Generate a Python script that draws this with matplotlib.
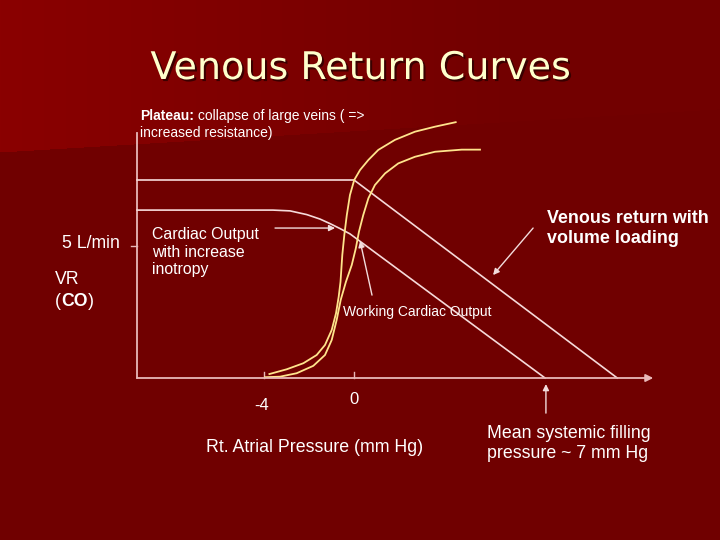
import numpy as np
import matplotlib
matplotlib.use("Agg")
import matplotlib.pyplot as plt
import matplotlib.patheffects as pe

# ---- data (x: right atrial pressure, mm Hg; y: flow, L/min) ----
vr_normal_x = [-9.64, -3.6, -2.84, -2.10, -1.51, -1.07, -0.62, -0.18, 8.49]
vr_normal_y = [6.36, 6.36, 6.33, 6.19, 6.02, 5.85, 5.66, 5.46, 0.0]

vr_loaded_x = [-9.64, 0.0, 11.7]
vr_loaded_y = [7.5, 7.5, 0.0]

co_ino_x = [-3.76, -2.99, -2.25, -1.66, -1.29, -0.99, -0.80, -0.68, -0.60,
            -0.52, -0.43, -0.32, -0.18, 0.01, 0.27, 0.64, 1.08, 1.82, 2.71,
            3.60, 4.52]
co_ino_y = [0.15, 0.33, 0.56, 0.87, 1.25, 1.82, 2.45, 3.08, 3.64,
            4.66, 5.42, 6.17, 6.93, 7.50, 7.88, 8.26, 8.64, 9.02, 9.33,
            9.52, 9.69]

co_norm_x = [-3.96, -3.29, -2.55, -1.81, -1.29, -0.99, -0.77, -0.59, -0.36,
             -0.10, 0.08, 0.22, 0.41, 0.64, 0.93, 1.38, 1.97, 2.71, 3.60,
             4.79, 5.60]
co_norm_y = [0.03, 0.05, 0.18, 0.46, 0.87, 1.44, 2.20, 2.96, 3.64,
             4.28, 4.91, 5.54, 6.17, 6.81, 7.31, 7.75, 8.13, 8.38, 8.57,
             8.65, 8.65]

x_ticks = [-4, 0]
x_tick_labels = ["-4", "0"]
y_tick = 5.0

W, H = 720, 540
AXIS = "#E8B8B8"
LINE = "#F6DADA"
CO = "#FFE48C"
TXT = "white"
TITLE = "#FFFFCC"

fig = plt.figure(figsize=(7.2, 5.4), dpi=100)

# background: dark red slide with a lighter band in the upper left
bg = fig.add_axes([0, 0, 1, 1])
yy, xx = np.mgrid[0:H, 0:W]
red = np.full((H, W), 112.0)
upper = yy < (152 - 0.06 * xx)
band = 138 - 24 * np.clip(xx / 520, 0, 1)
red[upper] = band[upper]
img = np.stack([red / 255, np.zeros_like(red), np.zeros_like(red)], axis=-1)
bg.imshow(img, extent=[0, W, H, 0], aspect="auto")
bg.set_axis_off()


def px(x, y):
    return x / W, 1 - y / H


ax = fig.add_axes([0, 0, 1, 1])
ax.patch.set_visible(False)
ax.set_xlim(-354 / 22.5, (W - 354) / 22.5)
ax.set_ylim((378 - H) / 26.4, 378 / 26.4)
ax.set_axis_off()

x0 = -9.64
ax.plot([x0, x0], [0, 9.28], color=AXIS, lw=1.3)
ax.annotate("", xy=(13.3, 0), xytext=(x0, 0),
            arrowprops=dict(arrowstyle="-|>", color=AXIS, lw=1.3,
                            mutation_scale=11, shrinkA=0, shrinkB=0))
for t in x_ticks:
    ax.plot([t, t], [0, 0.22], color=AXIS, lw=1)
ax.plot([x0 - 0.25, x0], [y_tick, y_tick], color=AXIS, lw=1)

ax.plot(vr_normal_x, vr_normal_y, color=LINE, lw=1.2)
ax.plot(vr_loaded_x, vr_loaded_y, color=LINE, lw=1.2)
ax.plot(co_ino_x, co_ino_y, color=CO, lw=1.3)
ax.plot(co_norm_x, co_norm_y, color=CO, lw=1.3)

arrow = dict(arrowstyle="-|>", color="#F2DCDC", lw=1, mutation_scale=9,
             shrinkA=0, shrinkB=0)
ax.annotate("", xy=(-0.84, 5.68), xytext=(-3.51, 5.68), arrowprops=arrow)
ax.annotate("", xy=(0.27, 5.19), xytext=(0.8, 3.14), arrowprops=arrow)
ax.annotate("", xy=(6.18, 3.90), xytext=(7.96, 5.68), arrowprops=arrow)
ax.annotate("", xy=(8.53, -0.23), xytext=(8.53, -1.33), arrowprops=arrow)

# ---- text ----
FONT = "Liberation Sans"
fig.text(*px(360.5, 79), "Venous Return Curves", color=TITLE, fontsize=27.4,
         family="DejaVu Sans", ha="center", va="baseline",
         path_effects=[pe.withSimplePatchShadow(offset=(1.5, -1.5),
                                                shadow_rgbFace="#2a0000",
                                                alpha=0.8)])

t1 = fig.text(*px(140, 116), "Plateau:", color=TXT, fontsize=10,
              family=FONT, weight="bold", va="center")
ax.annotate(" collapse of large veins ( =>", xy=(1, 0.5), xycoords=t1,
            va="center", color=TXT, fontsize=10, family=FONT)
fig.text(*px(140, 133), "increased resistance)", color=TXT, fontsize=10,
         family=FONT, va="center")

fig.text(*px(62, 243), "5 L/min", color=TXT, fontsize=12.7, family=FONT,
         va="center")
fig.text(*px(55, 279), "VR", color=TXT, fontsize=12.7, family=FONT,
         va="center")
p1 = fig.text(*px(55, 301), "(", color=TXT, fontsize=12.7, family=FONT,
              va="center")
p2 = ax.annotate("CO", xy=(1, 0.5), xycoords=p1, va="center", color=TXT,
                 fontsize=12.7, family=FONT, weight="bold")
ax.annotate(")", xy=(1, 0.5), xycoords=p2, va="center", color=TXT,
            fontsize=12.7, family=FONT)

fig.text(*px(152, 227), "Cardiac Output\nwith increase\ninotropy", color=TXT,
         fontsize=11.4, family=FONT, va="top", linespacing=1.22)
fig.text(*px(343, 312), "Working Cardiac Output", color=TXT, fontsize=10,
         family=FONT, va="center")
fig.text(*px(547, 210), "Venous return with\nvolume loading", color=TXT,
         fontsize=12.9, family=FONT, weight="bold", va="top",
         linespacing=1.2)

for t, lab, yoff in zip(x_ticks, x_tick_labels, [405, 399]):
    fig.text(*px(354 + t * 22.5 - 2 * (t < 0), yoff), lab, color=TXT,
             fontsize=12, family=FONT, ha="center", va="center")

fig.text(*px(206, 447), "Rt. Atrial Pressure (mm Hg)", color=TXT,
         fontsize=12.8, family=FONT, va="center")
fig.text(*px(487, 425), "Mean systemic filling\npressure ~ 7 mm Hg", color=TXT,
         fontsize=12.8, family=FONT, va="top", linespacing=1.2)

fig.savefig("out.png", dpi=100)
